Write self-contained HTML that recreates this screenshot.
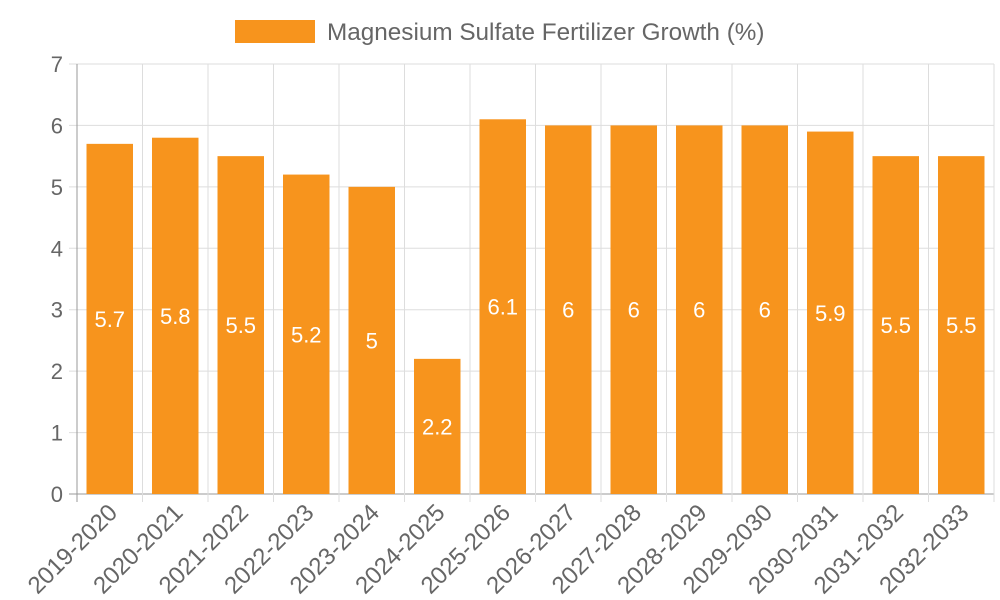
<!DOCTYPE html>
<html><head><meta charset="utf-8"><style>
body{margin:0;background:#fff;}
svg{display:block;font-family:"Liberation Sans",sans-serif;}
</style></head><body>
<svg id="chart" width="1000" height="600">
<rect x="235" y="20" width="80" height="23" fill="#f7941d"/>
<text x="327" y="40" font-size="24.3" fill="#666">Magnesium Sulfate Fertilizer Growth (%)</text>
<g id="grid"></g><g id="bars"></g><g id="labels"></g>
</svg>
<script>
const categories=["2019-2020","2020-2021","2021-2022","2022-2023","2023-2024","2024-2025","2025-2026","2026-2027","2027-2028","2028-2029","2029-2030","2030-2031","2031-2032","2032-2033"];
const values=[5.7,5.8,5.5,5.2,5,2.2,6.1,6,6,6,6,5.9,5.5,5.5];
const yTicks=[0,1,2,3,4,5,6,7];
const NS="http://www.w3.org/2000/svg";
const L=77,R=994,T=64,B=494,yMax=7;
const bw=(R-L)/categories.length;
const y=v=>B-(v/yMax)*(B-T);
const x=i=>L+bw*i;
function mk(tag,attrs,parent,text){const e=document.createElementNS(NS,tag);for(const k in attrs)e.setAttribute(k,attrs[k]);if(text!==undefined)e.textContent=text;parent.appendChild(e);return e;}
const grid=document.getElementById('grid'),bars=document.getElementById('bars'),labels=document.getElementById('labels');
yTicks.forEach(t=>{
 const l=mk('line',{x1:L-8,x2:R,y1:y(t),y2:y(t),stroke:t===0?'#999':'#ddd','stroke-width':1},grid);
 
 
 const tx=mk('text',{x:L-14,y:y(t)+8,'text-anchor':'end','font-size':22,fill:'#666'},grid,String(t));
 
 
});
for(let i=0;i<=categories.length;i++){
 const l=mk('line',{x1:x(i),x2:x(i),y1:T,y2:B+8,stroke:i===0?'#999':'#ddd','stroke-width':1},grid);
 
 
}
categories.forEach((c,i)=>{
 const v=values[i],cx=x(i)+bw/2,w=bw*0.71;
 const r=mk('rect',{x:cx-w/2,y:y(v),width:w,height:B-y(v),fill:'#f7941d'},bars);
 
 
 const vt=mk('text',{x:cx,y:(y(v)+B)/2+8,'text-anchor':'middle','font-size':22,fill:'#fff'},labels,String(v));
 
 
 const ct=mk('text',{x:0,y:0,'text-anchor':'end','font-size':24,fill:'#666',transform:`translate(${cx+9},${B+20}) rotate(-45)`},labels,c);
 
 
});
</script>
</body></html>
